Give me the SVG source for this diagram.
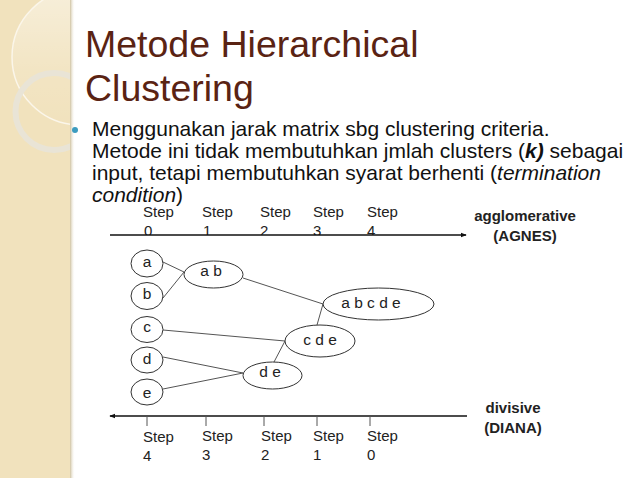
<svg xmlns="http://www.w3.org/2000/svg" width="638" height="478" viewBox="0 0 638 478">
<defs>
<style>
.title{font-family:"Liberation Sans",Arial,sans-serif;font-size:37.5px;fill:#5a2313}
.body{font-family:"Liberation Sans",Arial,sans-serif;font-size:21px;fill:#111}
.lbl{font-family:"Liberation Sans",Arial,sans-serif;font-size:15px;fill:#222}
.bold{font-family:"Liberation Sans",Arial,sans-serif;font-size:15px;font-weight:bold;fill:#222}
.node ellipse{fill:#fff;stroke:#333;stroke-width:1}
.node text{font-family:"Liberation Sans",Arial,sans-serif;font-size:15.5px;fill:#222;text-anchor:middle}
#connectors line{stroke:#555;stroke-width:1}
.axis{stroke:#111;stroke-width:1.3}
.tick{stroke:#555;stroke-width:1}
</style>
<marker id="arr" viewBox="0 0 8 8" refX="7" refY="4" markerWidth="6" markerHeight="6" orient="auto" markerUnits="userSpaceOnUse">
<path d="M0,1 L8,4 L0,7 z" fill="#111"/>
</marker>
<clipPath id="panel"><rect x="0" y="0" width="70" height="478"/></clipPath>
<clipPath id="numclip"><rect x="0" y="0" width="638" height="235"/></clipPath>
<linearGradient id="edge" x1="0" y1="0" x2="1" y2="0">
<stop offset="0" stop-color="#cfc2a0"/>
<stop offset="1" stop-color="#ffffff" stop-opacity="0"/>
</linearGradient>
<linearGradient id="glow" x1="0" y1="0" x2="0" y2="1">
<stop offset="0" stop-color="#fff" stop-opacity="0.45"/>
<stop offset="0.6" stop-color="#fff" stop-opacity="0.1"/>
<stop offset="1" stop-color="#fff" stop-opacity="0"/>
</linearGradient>
</defs>
<rect width="638" height="478" fill="#fff"/>
<g id="sidepanel">
<rect x="0" y="0" width="70" height="478" fill="#f1e2bd"/>
<g clip-path="url(#panel)">
<circle cx="80" cy="57" r="68" fill="url(#glow)" stroke="#fbf6ea" stroke-width="1.5"/>
<circle cx="54" cy="111.5" r="38.5" fill="none" stroke="#e9e4d6" stroke-width="6"/>
</g>
<rect x="70" y="0" width="5" height="478" fill="url(#edge)"/>
</g>
<g id="title">
<text class="title" x="85" y="57">Metode Hierarchical</text>
<text class="title" x="85" y="101">Clustering</text>
</g>
<g id="body">
<circle cx="75" cy="130" r="3" fill="#3c9cc0"/>
<text class="body" x="92" y="136">Menggunakan jarak matrix sbg clustering criteria.</text>
<text class="body" x="92" y="158">Metode ini tidak membutuhkan jmlah clusters (<tspan font-weight="bold" font-style="italic">k)</tspan> sebagai</text>
<text class="body" x="92" y="180">input, tetapi membutuhkan syarat berhenti (<tspan font-style="italic">termination</tspan></text>
<text class="body" x="92" y="202"><tspan font-style="italic">condition</tspan>)</text>
</g>
<g id="top-axis">
<text class="lbl" x="143" y="217">Step</text>
<text class="lbl" x="202" y="217">Step</text>
<text class="lbl" x="260" y="217">Step</text>
<text class="lbl" x="313" y="217">Step</text>
<text class="lbl" x="367" y="217">Step</text>
<g clip-path="url(#numclip)">
<text class="lbl" x="144" y="235.5">0</text>
<text class="lbl" x="203" y="235.5">1</text>
<text class="lbl" x="260" y="235.5">2</text>
<text class="lbl" x="313" y="235.5">3</text>
<text class="lbl" x="367" y="235.5">4</text>
</g>
<line class="axis" x1="110" y1="235" x2="466" y2="235" marker-end="url(#arr)"/>
<text class="bold" x="525" y="221" text-anchor="middle">agglomerative</text>
<text class="bold" x="525" y="241" text-anchor="middle">(AGNES)</text>
</g>
<g id="bottom-axis">
<line class="axis" x1="467" y1="416" x2="110" y2="416" marker-end="url(#arr)"/>
<line class="tick" x1="147" y1="416" x2="147" y2="426"/>
<line class="tick" x1="206" y1="416" x2="206" y2="426"/>
<line class="tick" x1="264" y1="416" x2="264" y2="426"/>
<line class="tick" x1="317" y1="416" x2="317" y2="426"/>
<line class="tick" x1="370" y1="416" x2="370" y2="426"/>
<text class="lbl" x="143" y="442">Step</text>
<text class="lbl" x="202" y="441">Step</text>
<text class="lbl" x="261" y="441">Step</text>
<text class="lbl" x="313" y="441">Step</text>
<text class="lbl" x="367" y="441">Step</text>
<text class="lbl" x="143" y="461">4</text>
<text class="lbl" x="202" y="460">3</text>
<text class="lbl" x="261" y="460">2</text>
<text class="lbl" x="313" y="460">1</text>
<text class="lbl" x="367" y="460">0</text>
<text class="bold" x="513" y="413" text-anchor="middle">divisive</text>
<text class="bold" x="513" y="433" text-anchor="middle">(DIANA)</text>
</g>
<g id="connectors">
<line x1="163" y1="262" x2="184" y2="272"/>
<line x1="163" y1="298" x2="184" y2="272"/>
<line x1="243" y1="278" x2="323" y2="304"/>
<line x1="163" y1="330" x2="285" y2="341"/>
<line x1="163" y1="357" x2="243" y2="373"/>
<line x1="163" y1="389" x2="243" y2="373"/>
<line x1="274" y1="362" x2="285" y2="341"/>
<line x1="317" y1="325" x2="323" y2="304"/>
</g>
<g id="node-a" class="node"><ellipse cx="147" cy="263.5" rx="16" ry="13.5"/><text x="147" y="267">a</text></g>
<g id="node-b" class="node"><ellipse cx="147" cy="296" rx="16" ry="13.5"/><text x="147" y="299">b</text></g>
<g id="node-c" class="node"><ellipse cx="147" cy="329.5" rx="16" ry="13"/><text x="147" y="332">c</text></g>
<g id="node-d" class="node"><ellipse cx="147" cy="360" rx="16" ry="13"/><text x="147" y="364">d</text></g>
<g id="node-e" class="node"><ellipse cx="147" cy="392" rx="16" ry="13"/><text x="147" y="398">e</text></g>
<g id="node-ab" class="node"><ellipse cx="213.5" cy="274.5" rx="29.5" ry="13.5"/><text x="211" y="276">a b</text></g>
<g id="node-de" class="node"><ellipse cx="272.5" cy="375.5" rx="29.5" ry="13.5"/><text x="270" y="377">d e</text></g>
<g id="node-cde" class="node"><ellipse cx="320" cy="341" rx="35" ry="16"/><text x="320" y="345">c d e</text></g>
<g id="node-abcde" class="node"><ellipse cx="378.5" cy="304" rx="55.5" ry="16"/><text x="371" y="308">a b c d e</text></g>
</svg>
